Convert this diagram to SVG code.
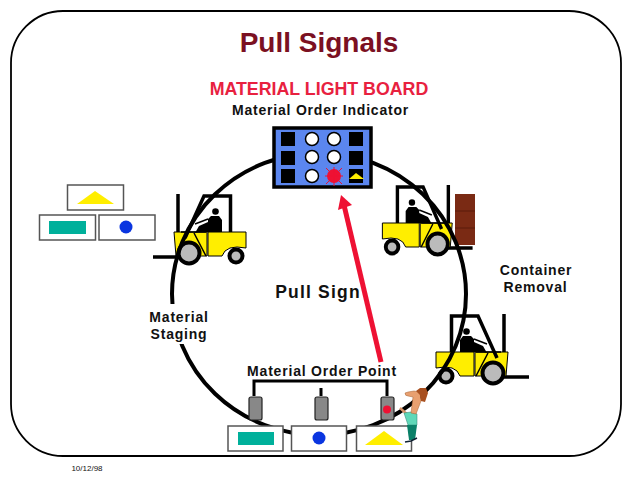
<svg xmlns="http://www.w3.org/2000/svg" xmlns:xlink="http://www.w3.org/1999/xlink" width="638" height="478" viewBox="0 0 638 478">
<style>
text{font-family:"Liberation Sans",Arial,sans-serif;font-weight:bold;fill:#111;text-anchor:middle}
.lbl{font-size:14px;letter-spacing:.8px}
.card{fill:#fff;stroke:#555;stroke-width:1.5}
.teal{fill:#00b09b}.blue{fill:#0a35e0}.yel{fill:#ffee00}
.sq{fill:#000}.led{fill:#fff;stroke:#000;stroke-width:1.5}
.plug{fill:#888;stroke:#222;stroke-width:1.2}
</style>
<defs>
<g id="truck">
<path d="M178 194V258M153 257H180" fill="none" stroke="#000" stroke-width="3.500"/>
<path d="M174 232H207V256H176Z" fill="#ffee00" stroke="#000"/>
<path d="M208 232H246V248Q226 244 222 256H208Z" fill="#ffee00" stroke="#000"/>
<path d="M185 238L204 196H230.500V232" fill="none" stroke="#000" stroke-width="3.500"/>
<path d="M195 233L199 226L208 222L208 219L211 216H219L222 220V232H198Z" fill="#000"/>
<circle cx="215.500" cy="211.500" r="3.300" fill="#000"/>
<path d="M195 224L208 219" fill="none" stroke="#000" stroke-width="1.500"/>
<path d="M181 232L206 232M194 233L206 256" fill="none" stroke="#000" stroke-width="1.500"/>
<circle cx="189" cy="253" r="10.500" fill="#bbb" stroke="#000" stroke-width="4"/>
<circle cx="236" cy="256" r="6.500" fill="#bbb" stroke="#000" stroke-width="4"/>
</g>
</defs>
<rect x="11" y="11" width="610" height="445" rx="52" fill="#fff" stroke="#000" stroke-width="1.800"/>
<text x="319" y="52" font-size="28" style="fill:#7b1022">Pull Signals</text>
<text x="319" y="95" font-size="17.800" style="fill:#e8213f">MATERIAL LIGHT BOARD</text>
<text x="320.500" y="115" class="lbl">Material Order Indicator</text>
<text x="318" y="298" font-size="17.500" style="letter-spacing:1.2px">Pull Sign</text>
<text x="536" y="275" class="lbl">Container</text>
<text x="535.500" y="292" class="lbl">Removal</text>
<text x="322" y="376" class="lbl">Material Order Point</text>
<text x="87" y="471" style="font-size:8px;font-weight:normal">10/12/98</text>
<g id="forklift-staging"><use xlink:href="#truck"/></g>
<g id="forklift-removal"><rect x="455" y="194" width="20" height="51" fill="#7a2a14"/>
<path d="M455 211H475M455 228H475" stroke="#5a1a0a"/>
<g transform="translate(621,-9) scale(-0.97,1)"><use xlink:href="#truck"/></g>
</g>
<g id="forklift-point"><g transform="translate(682,120) scale(-1,1)"><use xlink:href="#truck"/></g></g>
<g id="connectors">
<ellipse cx="319" cy="294" rx="147" ry="141" fill="none" stroke="#000" stroke-width="4"/>
<path d="M254 396V381H387V396M321 396V388" fill="none" stroke="#000" stroke-width="3"/>
<path d="M381 362L344 205" fill="none" stroke="#ee1133" stroke-width="5"/>
<path d="M341 195L352 205L338 210Z" fill="#ee1133"/>
</g>
<g id="label-staging">
<rect x="148" y="304" width="62" height="40" fill="#fff"/>
<text x="179" y="322" class="lbl">Material</text>
<text x="179" y="339" class="lbl">Staging</text>
</g>
<g id="light-board">
<rect x="274" y="128" width="97" height="59" fill="#5b86ef" stroke="#000" stroke-width="3.500"/>
<rect x="281" y="132" width="14" height="14" class="sq"/><rect x="281" y="151" width="14" height="14" class="sq"/><rect x="281" y="169" width="14" height="14" class="sq"/>
<rect x="349" y="132" width="14" height="14" class="sq"/><rect x="349" y="151" width="14" height="14" class="sq"/><rect x="349" y="169" width="14" height="14" class="sq"/>
<circle cx="312" cy="139" r="6.500" class="led"/><circle cx="334" cy="139" r="6.500" class="led"/>
<circle cx="312" cy="157" r="6.500" class="led"/><circle cx="334" cy="157" r="6.500" class="led"/>
<circle cx="312" cy="176" r="6.500" class="led"/>
<circle cx="334" cy="176" r="7" fill="#ee1133"/>
<path d="M326 168L342 184M342 168L326 184M334 167V186M325 176H343" stroke="#ee1133"/>
<path d="M349 179L356 173L364 179Z" class="yel"/>
</g>
<g id="stock-left">
<rect x="67.500" y="185" width="56" height="25" class="card"/><path d="M77 204L95 191L114 204Z" class="yel"/>
<rect x="39.500" y="215" width="56" height="25" class="card"/><rect x="49" y="221" width="37" height="13" class="teal"/>
<rect x="99" y="215" width="56" height="25" class="card"/><circle cx="126" cy="227" r="6.500" class="blue"/>
</g>
<g id="plug-1"><rect x="249" y="397" width="13" height="23" rx="2" class="plug"/></g>
<g id="plug-2"><rect x="315" y="397" width="13" height="23" rx="2" class="plug"/></g>
<g id="plug-3"><rect x="381" y="397" width="13" height="23" rx="2" class="plug"/><circle cx="387" cy="409.500" r="4" fill="#ee1133"/></g>
<g id="stock-bottom">
<rect x="228" y="426" width="55" height="25" class="card"/><rect x="238" y="432" width="36" height="13" class="teal"/>
<rect x="291.500" y="426" width="55" height="25" class="card"/><circle cx="319" cy="438" r="6.500" class="blue"/>
<rect x="356.500" y="426" width="55" height="25" class="card"/><path d="M365 445L384 431L403 445Z" class="yel"/>
</g>
<g id="worker">
<path d="M400 408L409 416" fill="none" stroke="#d89468" stroke-width="2.500"/>
<path d="M404 413L411 412L417 414V425H408Z" fill="#60d8b8" stroke="#2a8070" stroke-width=".5"/>
<path d="M407 425H417L415 440H409Z" fill="#0a8068"/>
<path d="M405 442L411 441L417 438" fill="none" stroke="#123" stroke-width="1.500"/>
<path d="M405 393Q405 396 408 396L413 397L411 413L416 414L421 401L420 392L414 391L408 392Z" fill="#e8a070" stroke="#a56030" stroke-width=".5"/>
<path d="M416 391L420 388L426 388L428 393L425 402L421 401L420 395Z" fill="#a85020"/>
</g>
</svg>
